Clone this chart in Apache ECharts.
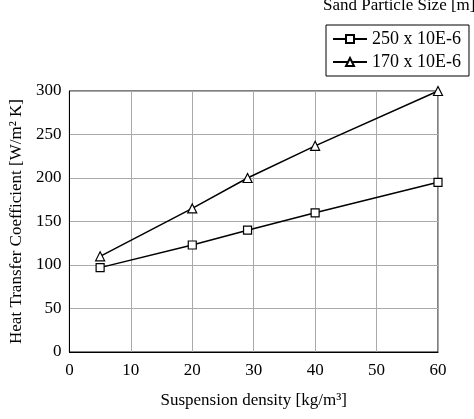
<!DOCTYPE html><html><head><meta charset="utf-8"><script src="https://cdn.jsdelivr.net/npm/echarts@6/dist/echarts.min.js"></script></head><body style="margin:0"><div id="c" style="width:474px;height:419px"></div><script>
const xs=[5,20,29,40,60];
const s250=[97,123,140,160,195];
const s170=[110,165,200,237,300];
const names=['250 x 10E-6','170 x 10E-6'];
const F='Liberation Serif';
const c=echarts.init(document.getElementById('c'));
const pair=a=>xs.map((x,i)=>[x,a[i]]);
c.setOption({
 animation:false,backgroundColor:'#fff',
 textStyle:{fontFamily:F},
 title:{text:'Sand Particle Size [m]',left:318,top:-8,textStyle:{fontFamily:F,fontSize:17,fontWeight:'normal',color:'#000'}},
 legend:{orient:'vertical',left:326,top:25,width:141,itemGap:5,padding:[5,8,5,6],borderColor:'#000',borderWidth:1,itemWidth:34,itemHeight:10,
  textStyle:{fontFamily:F,fontSize:18,color:'#000'},data:names},
 grid:{left:65,right:36,top:91,bottom:67,show:true,borderColor:'#000',borderWidth:1},
 xAxis:{type:'value',min:0,max:60,interval:10,name:'Suspension density [kg/m³]',nameLocation:'middle',nameGap:40,
  nameTextStyle:{fontFamily:F,fontSize:17,color:'#000'},axisLine:{lineStyle:{color:'#000'}},axisTick:{show:false},
  axisLabel:{fontFamily:F,fontSize:17,color:'#000',margin:10},splitLine:{lineStyle:{color:'#aaa'}}},
 yAxis:{type:'value',min:0,max:300,interval:50,name:'Heat Transfer Coefficient [W/m² K]',nameLocation:'middle',nameGap:42,
  nameTextStyle:{fontFamily:F,fontSize:17,color:'#000'},axisLine:{show:true,lineStyle:{color:'#000'}},axisTick:{show:false},
  axisLabel:{fontFamily:F,fontSize:17,color:'#000'},splitLine:{lineStyle:{color:'#aaa'}}},
 series:[
  {name:names[0],type:'line',data:pair(s250),symbol:'rect',symbolSize:8,lineStyle:{color:'#000',width:1.5},itemStyle:{color:'#fff',borderColor:'#000',borderWidth:1.2}},
  {name:names[1],type:'line',data:pair(s170),symbol:'triangle',symbolSize:9,lineStyle:{color:'#000',width:1.5},itemStyle:{color:'#fff',borderColor:'#000',borderWidth:1.2}}
 ]});
</script></body></html>
